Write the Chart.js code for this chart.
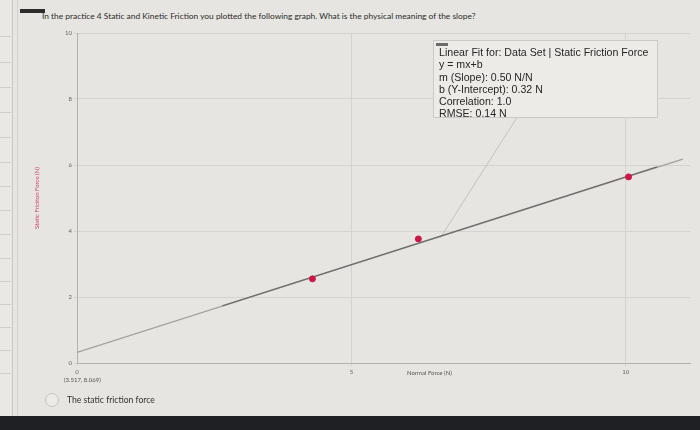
<!doctype html>
<html>
    <head>
        <meta charset="utf-8">
        <!-- main page title -->
        <title>Static Friction Force vs Normal Force</title>
        <!-- chartjs library -->
        <script src="https://cdn.jsdelivr.net/npm/chart.js@4.4.1/dist/chart.umd.min.js"></script>
        <!-- CSS -->
        <style>
            html, body{
                margin: 0;
                padding: 0;
                width: 700px;
                height: 430px;
                overflow: hidden;
                background: #e6e5e1;
                font-family: Lato, "Open Sans", sans-serif;
            }
            .abs{ position: absolute; }
            #chartBox{
                position: absolute;
                left: 0; top: 0;
                width: 700px; height: 430px;
            }
            .sideRow{
                position: absolute;
                left: 0; width: 11px; height: 1px;
                background: #cfcecb;
            }
            #fitBox{
                left: 433px; top: 40px;
                width: 225px; height: 78px;
                border: 1px solid #cbcac6;
                background: #ecebe7;
                font-family: "Liberation Sans", Arial, sans-serif;
                font-size: 10.6px;
                color: #262626;
                line-height: 12.3px;
                padding: 5px 0 0 5px;
                box-sizing: border-box;
            }
        </style>
    </head>
    <body>
        <!-- left side bar of the page -->
        <div class="abs" style="left:0;top:0;width:12px;height:416px;background:#e9e8e5;border-right:1px solid #c8c7c3;"></div>
        <div class="abs" style="left:17px;top:0;width:1px;height:416px;background:#d3d2ce;"></div>
        <div class="sideRow" style="top:36px"></div>
        <div class="sideRow" style="top:62px"></div>
        <div class="sideRow" style="top:87px"></div>
        <div class="sideRow" style="top:112px"></div>
        <div class="sideRow" style="top:137px"></div>
        <div class="sideRow" style="top:162px"></div>
        <div class="sideRow" style="top:186px"></div>
        <div class="sideRow" style="top:210px"></div>
        <div class="sideRow" style="top:234px"></div>
        <div class="sideRow" style="top:258px"></div>
        <div class="sideRow" style="top:281px"></div>
        <div class="sideRow" style="top:304px"></div>
        <div class="sideRow" style="top:327px"></div>
        <div class="sideRow" style="top:350px"></div>
        <div class="sideRow" style="top:373px"></div>

        <!-- question header -->
        <div class="abs" style="left:20px;top:9px;width:25px;height:4px;background:#2c2c2c;"></div>
        <div class="abs" style="left:42px;top:11px;font-size:8.4px;color:#2b2b2b;white-space:nowrap;">In the practice 4 Static and Kinetic Friction you plotted the following graph. What is the physical meaning of the slope?</div>

        <!-- chart -->
        <div id="chartBox"><canvas id="frictionChart" width="700" height="430"></canvas></div>

        <!-- x axis title and point readout -->
        <div class="abs" style="left:407px;top:369px;font-size:6px;color:#555;white-space:nowrap;">Normal Force (N)</div>
        <div class="abs" style="left:64px;top:376px;font-size:6px;color:#555;white-space:nowrap;">(3.517, 8.069)</div>

        <!-- linear fit box -->
        <div id="fitBox" class="abs">
            <div class="abs" style="left:2px;top:2px;width:12px;height:3px;background:#6a6a6a;"></div>
            Linear Fit for: Data Set | Static Friction Force<br>
            y = mx+b<br>
            m (Slope): 0.50 N/N<br>
            b (Y-Intercept): 0.32 N<br>
            Correlation: 1.0<br>
            RMSE: 0.14 N
        </div>

        <!-- answer choice -->
        <div class="abs" style="left:45px;top:393px;width:12px;height:12px;border:1px solid #c4c3bf;border-radius:50%;background:#ecebe8;"></div>
        <div class="abs" style="left:67px;top:395px;font-size:8.6px;color:#333;white-space:nowrap;">The static friction force</div>

        <!-- bottom dark strip -->
        <div class="abs" style="left:0;top:416px;width:700px;height:14px;background:#1f2023;"></div>

        <!-- javascript -->
        <script type=text/javascript>
        // measured data set
        var normalForce = [4.29, 6.22, 10.05];
        var staticFriction = [2.55, 3.76, 5.64];

        // linear fit line, full extent and the darker part over the data
        var fitX = [0, 11.04];
        var fitY = [0.32, 6.18];
        var fitCoreX = [2.65, 10.57];
        var fitCoreY = [1.73, 5.94];

        // thin leader line from the fit box down to the line
        var leaderX = [6.62, 8.01];
        var leaderY = [3.79, 7.42];

        // tick labels
        var xTicks = [0, 5, 10];
        var yTicks = [0, 2, 4, 6, 8, 10];

        function toPoints(xs, ys){
            return xs.map(function(x, i){ return {x: x, y: ys[i]}; });
        }

        var frictionChart = new Chart(document.getElementById('frictionChart'), {
            type: 'scatter',
            data:{
                datasets:[
                {
                    // drawn last = on top
                    data: toPoints(normalForce, staticFriction),
                    backgroundColor: '#cc1646',
                    borderColor: '#cc1646',
                    pointRadius: 3,
                    showLine: false
                },
                {
                    data: toPoints(fitCoreX, fitCoreY),
                    showLine: true,
                    borderColor: '#6e6e6e',
                    borderWidth: 1.3,
                    pointRadius: 0
                },
                {
                    data: toPoints(fitX, fitY),
                    showLine: true,
                    borderColor: '#a0a09e',
                    borderWidth: 1.2,
                    pointRadius: 0
                },
                {
                    data: toPoints(leaderX, leaderY),
                    showLine: true,
                    borderColor: '#b9b9b6',
                    borderWidth: 0.8,
                    pointRadius: 0
                }]
            },
            options:{
                responsive: false,
                animation: false,
                layout:{
                    padding:{ left: 33, top: 33, right: 10, bottom: 47 }
                },
                scales:{
                    x:{
                        type: 'linear',
                        min: 0,
                        max: 11.17,
                        afterBuildTicks: function(axis){
                            axis.ticks = xTicks.map(function(v){ return {value: v}; });
                        },
                        afterFit: function(axis){ axis.height = 20; },
                        ticks:{
                            color: '#666',
                            font:{ size: 6, family: 'Lato' },
                            padding: 2
                        },
                        grid:{
                            color: '#d4d3cf',
                            lineWidth: 1,
                            tickLength: 3
                        },
                        border:{ color: '#b3b2ae' }
                    },
                    y:{
                        min: 0,
                        max: 10,
                        afterBuildTicks: function(axis){
                            axis.ticks = yTicks.map(function(v){ return {value: v}; });
                        },
                        afterFit: function(axis){ axis.width = 44; },
                        title:{
                            display: true,
                            text: 'Static Friction Force (N)',
                            color: '#d4456a',
                            font:{ size: 6, family: 'Lato' },
                            padding: 0
                        },
                        ticks:{
                            color: '#666',
                            font:{ size: 6, family: 'Lato' },
                            padding: 2
                        },
                        grid:{
                            color: '#d4d3cf',
                            lineWidth: 1,
                            tickLength: 3
                        },
                        border:{ color: '#b3b2ae' }
                    }
                },
                plugins:{
                    legend:{ display: false },
                    tooltip:{ enabled: false }
                }
            }
        });
        </script>
    </body>
</html>
